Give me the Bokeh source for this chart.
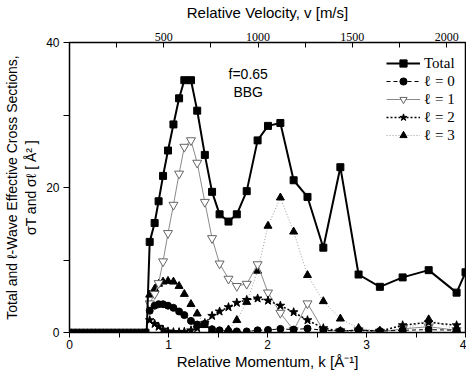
from bokeh.plotting import figure
from bokeh.models import Range1d, LinearAxis, FixedTicker, Legend, LegendItem, Label
from bokeh.embed import file_html
from bokeh.resources import INLINE

# ---- data ----
k_low = [0.0, 0.04, 0.08, 0.12, 0.16, 0.20, 0.24, 0.28, 0.32, 0.36, 0.40,
         0.44, 0.48, 0.52, 0.56, 0.60, 0.64, 0.68, 0.72, 0.76, 0.78]
y_low = [0.15] * len(k_low)

k = [0.81, 0.86, 0.90, 0.945, 0.995, 1.05, 1.107, 1.16, 1.227, 1.29, 1.367, 1.44,
     1.516, 1.606, 1.69, 1.79, 1.90, 2.005, 2.13, 2.264, 2.404, 2.564, 2.736,
     2.92, 3.135, 3.365, 3.628, 3.91]
k_total = k + [4.0]
total = [12.5, 15.1, 18.1, 21.6, 25.1, 28.7, 32.3, 34.8, 34.8, 30.6, 24.5, 19.4,
         16.3, 15.3, 16.3, 19.5, 26.5, 28.5, 28.9, 21.0, 18.7, 11.7, 22.8,
         8.0, 6.3, 7.6, 8.6, 5.5, 8.3]
l0 = [3.0, 3.7, 3.9, 3.9, 3.7, 3.4, 2.9, 2.4, 1.6, 1.1, 1.2, 0.45,
      0.3, 0.2, 0.15, 0.15, 0.3, 0.35, 0.5, 0.4, 0.55, 0.3, 0.2,
      0.35, 0.2, 0.3, 0.4, 0.3]
l1 = [4.0, 5.3, 6.8, 9.8, 13.7, 17.6, 21.9, 25.6, 26.5, 23.4, 18.0, 13.0,
      9.5, 7.4, 6.4, 6.7, 9.4, 5.5, 2.7, 0.3, 4.0, 0.3, 0.2,
      0.3, 0.1, 0.5, 0.8, 0.3]
l2 = [1.7, 1.2, 0.8, 0.4, 0.15, 0.05, 0.05, 0.1, 0.3, 0.6, 1.3, 2.3,
      2.9, 3.5, 4.1, 4.5, 4.7, 4.4, 3.7, 2.8, 1.7, 0.6, 0.2,
      0.3, 0.2, 1.0, 1.4, 1.0]
l3 = [5.2, 6.0, 6.7, 7.0, 7.1, 7.0, 6.4, 5.3, 3.9, 2.6, 1.0, 0.3,
      0.1, 0.4, 1.7, 4.2, 8.5, 14.7, 18.6, 13.9, 7.9, 4.3, 1.9,
      0.6, 0.2, 0.3, 1.8, 0.4]

k_ticks = [0, 1, 2, 3, 4]
k_minor = [0.5, 1.5, 2.5, 3.5]
y_ticks = [0, 20, 40]
y_minor = [10, 30]
v_ticks = [500, 1000, 1500, 2000]
v_minor = [250, 750, 1250, 1750]
v_per_k = 525.0  # m/s per 1/Angstrom (top axis scale)

SANS = "Liberation Sans"
SERIF = "Liberation Serif"

p = figure(width=466, height=372, output_backend="svg", toolbar_location=None,
           x_range=Range1d(0, 4), y_range=Range1d(0, 40),
           min_border_left=68, min_border_right=1, min_border_top=40, min_border_bottom=40)
p.xgrid.visible = False
p.ygrid.visible = False
p.outline_line_color = "black"
p.outline_line_width = 1.5
p.background_fill_color = "white"
p.border_fill_color = "white"

# bottom axis
xa = p.xaxis[0]
xa.ticker = FixedTicker(ticks=k_ticks, minor_ticks=k_minor)
xa.axis_label = "Relative Momentum, k [Å⁻¹]"
# left axis
ya = p.yaxis[0]
ya.ticker = FixedTicker(ticks=y_ticks, minor_ticks=y_minor)
ya.axis_label = "Total and ℓ-Wave Effective Cross Sections,\nσT and σℓ [ Å² ]"

for ax in (xa, ya):
    ax.major_tick_in = 0
    ax.minor_tick_in = 0
    ax.major_label_text_font = SANS
    ax.major_label_text_font_size = "12px"
    ax.axis_label_text_font = SANS
    ax.axis_label_text_font_style = "normal"
    ax.axis_line_color = "black"
    ax.major_tick_line_color = "black"
    ax.minor_tick_line_color = "black"
    ax.major_label_text_color = "black"
    ax.axis_label_text_color = "black"
xa.major_tick_out = 5
xa.minor_tick_out = 5
xa.axis_label_text_font_size = "15px"
xa.major_label_standoff = 2
xa.axis_label_standoff = 1
ya.major_tick_out = 6
ya.minor_tick_out = 6
ya.axis_label_text_font_size = "14px"
ya.major_label_standoff = 4
ya.axis_label_standoff = 4

# top axis (velocity)
p.extra_x_ranges = {"v": Range1d(0, 4 * v_per_k)}
ta = LinearAxis(x_range_name="v", ticker=FixedTicker(ticks=v_ticks, minor_ticks=v_minor),
                axis_label="Relative Velocity, v [m/s]")
ta.major_tick_in = 5
ta.major_tick_out = 0
ta.minor_tick_in = 5
ta.minor_tick_out = 0
ta.major_label_text_font = SERIF
ta.major_label_text_font_size = "12px"
ta.major_label_standoff = 2
ta.axis_label_text_font = SANS
ta.axis_label_text_font_style = "normal"
ta.axis_label_text_font_size = "15px"
ta.axis_label_standoff = 9
ta.major_label_text_color = "black"
ta.axis_label_text_color = "black"
p.add_layout(ta, "above")

# low-energy region (all series ~0)
p.line(k_low, y_low, line_color="black", line_width=1.5)
p.scatter(k_low, y_low, marker="square", size=4.5, color="black")

# series
r_l3l = p.line(k, l3, line_color="#9a9a9a", line_width=1, line_dash="1 2")
r_l3s = p.scatter(k, l3, marker="triangle", size=8, color="black")
r_l1l = p.line(k, l1, line_color="#8a8a8a", line_width=1)
r_l1s = p.scatter(k, l1, marker="inverted_triangle", size=9, fill_color="white",
                  line_color="#666666", line_width=1)
r_l2l = p.line(k, l2, line_color="black", line_width=1.5, line_dash="2 2")
r_l2s = p.scatter(k, l2, marker="star", size=9, color="black")
r_l0l = p.line(k, l0, line_color="black", line_width=1, line_dash="4 3")
r_l0s = p.scatter(k, l0, marker="circle", size=7, color="black")
r_tl = p.line([k_low[-1]] + k_total, [y_low[-1]] + total, line_color="black", line_width=2)
r_ts = p.scatter(k_total, total, marker="square", size=7, color="black")

legend = Legend(items=[
    LegendItem(label="Total", renderers=[r_tl, r_ts]),
    LegendItem(label="ℓ = 0", renderers=[r_l0l, r_l0s]),
    LegendItem(label="ℓ = 1", renderers=[r_l1l, r_l1s]),
    LegendItem(label="ℓ = 2", renderers=[r_l2l, r_l2s]),
    LegendItem(label="ℓ = 3", renderers=[r_l3l, r_l3s]),
], location=(317, 188))
legend.glyph_width = 34
legend.glyph_height = 18
legend.label_height = 18
legend.spacing = 0
legend.padding = 0
legend.margin = 0
legend.label_standoff = 4
legend.border_line_alpha = 0
legend.background_fill_alpha = 0
legend.label_text_font = SERIF
legend.label_text_font_size = "15px"
legend.label_text_color = "black"
p.add_layout(legend)

p.add_layout(Label(x=1.805, y=35.6, text="f=0.65", text_align="center", text_baseline="middle",
                   text_font=SANS, text_font_size="14px", text_color="black"))
p.add_layout(Label(x=1.805, y=33.2, text="BBG", text_align="center", text_baseline="middle",
                   text_font=SANS, text_font_size="14px", text_color="black"))

open("out.html", "w").write(file_html(p, INLINE))
